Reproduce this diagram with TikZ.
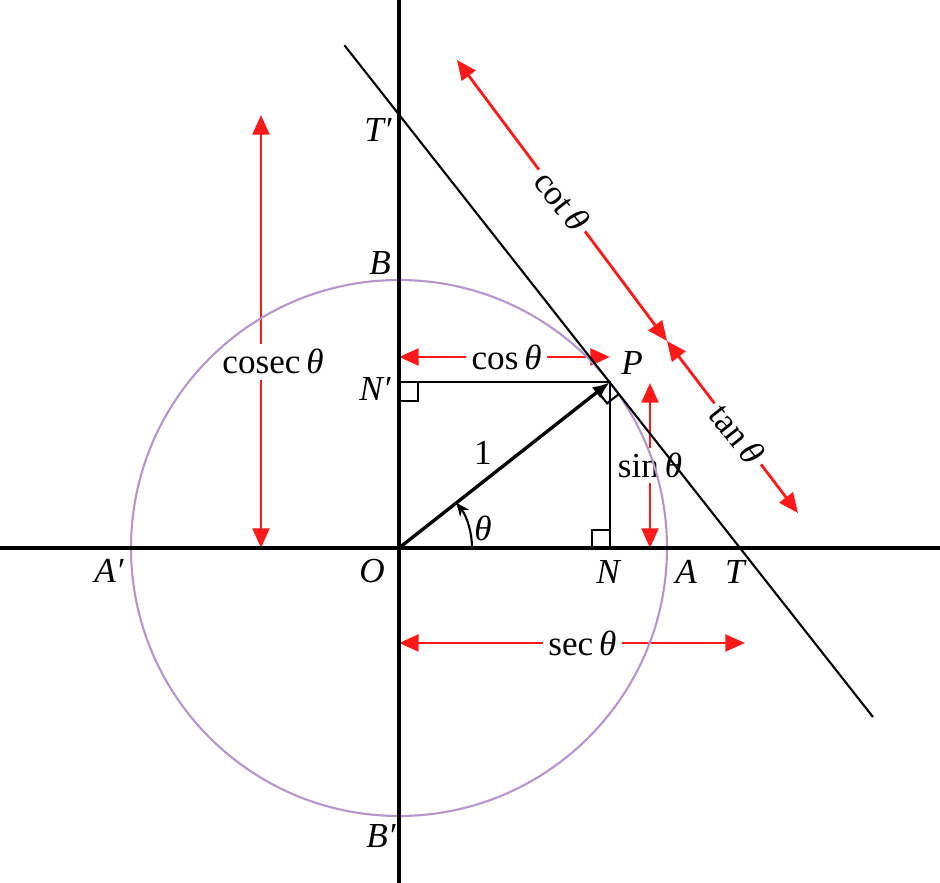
\documentclass[tikz,border=0pt]{standalone}
\usepackage{fontspec}
\setmainfont{Liberation Serif}
\usetikzlibrary{arrows.meta,calc}

\definecolor{ringpurple}{RGB}{180,150,205}
\definecolor{arrowred}{RGB}{255,25,25}

\tikzstyle{axis} = [line width=0.95pt]
\tikzstyle{guide} = [line width=0.6pt]
\tikzstyle{measure} = [arrowred, line width=0.8pt,
    {Triangle[length=5.6pt,width=4.8pt]}-{Triangle[length=5.6pt,width=4.8pt]}]
\tikzstyle{measurelabel} = [fill=white, inner sep=1.5pt, text=black]
\tikzstyle{pointlabel} = [font=\fontsize{10}{12}\selectfont\itshape]

\begin{document}
\begin{tikzpicture}[font=\fontsize{10}{12}\selectfont]
\useasboundingbox (-3.99,-3.35) rectangle (5.41,5.48);

% points of the figure
\coordinate (O) at (0,0);
\coordinate (P) at (38.2:2.68);
\coordinate (N) at (P |- O);
\coordinate (Nprime) at (P -| O);
\coordinate (T) at (3.41,0);
\coordinate (Tprime) at (0,4.334);

% ends of the red measures
\coordinate (cosecfoot) at (-1.38,0);
\coordinate (coseccap) at (-1.38,4.33);
\coordinate (cosfoot) at (0,1.91);
\coordinate (costip) at (2.11,1.91);
\coordinate (sintop) at (2.51,1.65);
\coordinate (sinfoot) at (2.51,0);
\coordinate (secfoot) at (0,-0.95);
\coordinate (sectip) at (3.46,-0.95);
\coordinate (cottop) at (0.58,4.88);
\coordinate (cotbot) at (2.68,2.07);
\coordinate (tanbot) at (3.99,0.35);

\draw[measure] (cosecfoot) -- node[measurelabel,pos=0.43,xshift=0.12cm] (cosec) {cosec\,\textit{θ}} (coseccap);
\draw[measure] (cosfoot) -- node[measurelabel,pos=0.51] (cos) {cos\,\textit{θ}} (costip);
\draw[measure] (sintop) -- node[measurelabel,pos=0.5] (sin) {sin\,\textit{θ}} (sinfoot);
\draw[measure] (secfoot) -- node[measurelabel,pos=0.53] (sec) {sec\,\textit{θ}} (sectip);
\draw[measure] (cottop) -- node[measurelabel,pos=0.5,rotate=-51.8] (cot) {cot\,\textit{θ}} (cotbot);
\draw[measure] (cotbot) -- node[measurelabel,pos=0.54,rotate=-51.8] (tan) {tan\,\textit{θ}} (tanbot);

% circle, axes and tangent
\draw[ringpurple, line width=0.6pt] (O) circle (2.68);
\draw[axis] (O -| current bounding box.west) -- (O -| current bounding box.east);
\draw[axis] (O |- current bounding box.north) -- (O |- current bounding box.south);
\draw[guide] ($(Tprime)!-0.16!(T)$) -- ($(Tprime)!1.39!(T)$);

% radius and projections
\draw[guide] (Nprime) -- (P) -- (N);
\draw[axis, -{Latex[length=4.8pt,width=4pt]}] (O) -- (P);
\draw[guide, -{Stealth[length=3.8pt,width=3.2pt]}] (0.73,0) arc (0:38.2:0.73);
\draw[guide] (Nprime) rectangle ++(0.19,-0.19);
\draw[guide] (N) rectangle ++(-0.18,0.18);
\draw[guide] ($(P)!0.15cm!(O)$) -- ++(-51.8:0.15) -- ($(P)+(-51.8:0.15)$);

% labels
\node (one) at (0.84,0.95) {1};
\node[pointlabel] (theta) at (0.84,0.20) {θ};
\node[pointlabel] (labP) at (2.33,1.85) {P};
\node[pointlabel] (labO) at (-0.27,-0.23) {O};
\node[pointlabel] (labN) at (2.09,-0.24) {N};
\node[pointlabel] (labA) at (2.87,-0.24) {A};
\node[pointlabel] (labT) at (3.36,-0.24) {T};
\node[pointlabel] (labAprime) at (-2.90,-0.23) {A′};
\node[pointlabel] (labB) at (-0.19,2.85) {B};
\node[pointlabel] (labBprime) at (-0.18,-2.88) {B′};
\node[pointlabel] (labNprime) at (-0.24,1.59) {N′};
\node[pointlabel] (labTprime) at (-0.21,4.18) {T′};
\end{tikzpicture}
\end{document}
